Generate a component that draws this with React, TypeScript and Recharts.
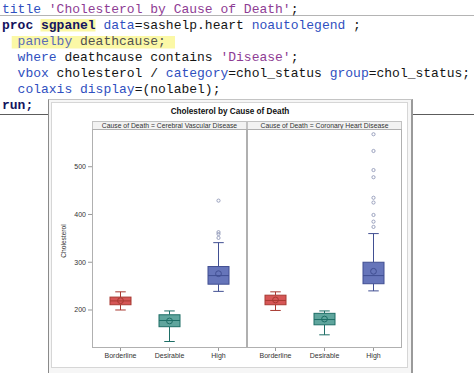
import React from 'react';
import { ComposedChart, Bar, Scatter, XAxis, YAxis } from 'recharts';

// ---- data ----
const categories = ['Borderline', 'Desirable', 'High'];
const yTicks = [200, 300, 400, 500];
const yDomain = [122.5, 579];

// Cerebral Vascular Disease
const cvLo = [200, 134, 239];
const cvQ1 = [211, 165, 254];
const cvMed = [219, 178, 272];
const cvQ3 = [227, 190, 291];
const cvHi = [238, 198, 341];
const cvMean = [219.5, 177, 276];
const cvHighOutliers = [351, 359, 363, 429];

// Coronary Heart Disease
const chLo = [199, 148, 240];
const chQ1 = [211, 169, 255];
const chMed = [220, 180, 272];
const chQ3 = [231, 193, 300];
const chHi = [238, 198, 360];
const chMean = [221, 181, 281];
const chHighOutliers = [374, 385, 399, 425, 435, 478, 493, 533, 568];

const panelTitles = [
  'Cause of Death = Cerebral Vascular Disease',
  'Cause of Death = Coronary Heart Disease',
];
const chartTitle = 'Cholesterol by Cause of Death';
const yLabel = 'Cholesterol';

const COLORS: Record<string, { fill: string; line: string }> = {
  Borderline: { fill: '#D65656', line: '#A83A32' },
  Desirable: { fill: '#5FA59D', line: '#1E6E66' },
  High: { fill: '#6675BA', line: '#414F92' },
};

const build = (lo: number[], q1: number[], med: number[], q3: number[], hi: number[], mean: number[]) =>
  categories.map((cat, i) => ({ cat, lo: lo[i], q1: q1[i], med: med[i], q3: q3[i], hi: hi[i], mean: mean[i] }));

const cvData = build(cvLo, cvQ1, cvMed, cvQ3, cvHi, cvMean);
const chData = build(chLo, chQ1, chMed, chQ3, chHi, chMean);
const cvOut = cvHighOutliers.map((v) => ({ cat: 'High', v }));
const chOut = chHighOutliers.map((v) => ({ cat: 'High', v }));

// ---- code listing ----
const KW = '#2f4fc0';
const STR = '#8e3c94';
const TXT = '#151515';
const BOLD = '#14145e';
type Tok = [string, string, boolean?];
const codeLines: Tok[][] = [
  [['title ', KW], ["'Cholesterol by Cause of Death'", STR], [';', TXT]],
  [['proc ', BOLD, true], ['sgpanel', BOLD, true], [' data', KW], ['=sashelp.heart ', TXT], ['noautolegend', KW], [' ;', TXT]],
  [['  panelby ', '#5a6cb6'], ['deathcause;', '#505050']],
  [['  where ', KW], ['deathcause contains ', TXT], ["'Disease'", STR], [';', TXT]],
  [['  vbox ', KW], ['cholesterol / ', TXT], ['category', KW], ['=chol_status ', TXT], ['group', KW], ['=chol_status;', TXT]],
  [['  colaxis ', KW], ['display', KW], ['=(nolabel);', TXT]],
  [['run;', BOLD, true]],
];

const BoxShape = (props: any) => {
  const { x, y, width, height, payload } = props;
  if (!payload) return null;
  const top = Math.min(y, y + height);
  const h = Math.abs(height);
  const span = payload.hi - payload.lo;
  const py = (v: number) => top + ((payload.hi - v) / span) * h;
  const cx = x + width / 2;
  const c = COLORS[payload.cat];
  const cap = width * 0.25;
  return (
    <g>
      <line x1={cx} x2={cx} y1={py(payload.hi)} y2={py(payload.q3)} stroke={c.line} strokeWidth={1} />
      <line x1={cx} x2={cx} y1={py(payload.q1)} y2={py(payload.lo)} stroke={c.line} strokeWidth={1} />
      <line x1={cx - cap} x2={cx + cap} y1={py(payload.hi)} y2={py(payload.hi)} stroke={c.line} />
      <line x1={cx - cap} x2={cx + cap} y1={py(payload.lo)} y2={py(payload.lo)} stroke={c.line} />
      <rect x={x} y={py(payload.q3)} width={width} height={py(payload.q1) - py(payload.q3)} fill={c.fill} stroke={c.line} strokeWidth={1} />
      <line x1={x} x2={x + width} y1={py(payload.med)} y2={py(payload.med)} stroke={c.line} strokeWidth={1} />
    </g>
  );
};

const MeanShape = (props: any) => {
  const { cx, cy, payload } = props;
  if (cx == null || cy == null) return null;
  const c = COLORS[payload?.cat] || COLORS.High;
  return <circle cx={cx} cy={cy} r={2.9} fill="none" stroke={c.line} strokeWidth={1} />;
};

const OutShape = (props: any) => {
  const { cx, cy } = props;
  if (cx == null || cy == null) return null;
  return <circle cx={cx} cy={cy} r={1.6} fill="none" stroke="#9199b8" strokeWidth={0.9} />;
};

const YLabelContent = (props: any) => {
  const vb = props.viewBox || {};
  const x = (vb.x ?? 0) + 11;
  const y = (vb.y ?? 0) + (vb.height ?? 0) / 2 + 3;
  return (
    <text x={x} y={y} transform={`rotate(-90 ${x} ${y})`} textAnchor="middle" dominantBaseline="central" fontSize={6.6} fill="#333">
      {yLabel}
    </text>
  );
};

const tickStyle = { fontSize: 7, fill: '#333' };

const Panel = ({ data, outliers, showY }: { data: any[]; outliers: any[]; showY: boolean }) => (
  <ComposedChart
    width={showY ? 195 : 155}
    height={245}
    data={data}
    margin={{ top: 1, right: 0, bottom: 0, left: 0 }}
  >
    <XAxis
      dataKey="cat"
      type="category"
      allowDuplicatedCategory={false}
      height={26}
      axisLine={false}
      tickLine={{ stroke: '#999' }}
      tickSize={4}
      tick={tickStyle}
      padding={{ left: 4, right: 4 }}
      interval={0}
    />
    <YAxis
      type="number"
      domain={yDomain}
      ticks={yTicks}
      allowDataOverflow
      hide={!showY}
      width={40}
      axisLine={false}
      tickLine={{ stroke: '#999' }}
      tickSize={4}
      tick={tickStyle}
      label={showY ? <YLabelContent /> : undefined}
    />
    <Bar
      dataKey={(d: any) => [d.lo, d.hi]}
      barSize={21}
      shape={<BoxShape />}
      isAnimationActive={false}
    />
    <Scatter dataKey="mean" shape={<MeanShape />} isAnimationActive={false} />
    <Scatter data={outliers} dataKey="v" shape={<OutShape />} isAnimationActive={false} />
  </ComposedChart>
);

export default function App() {
  const font = '"Liberation Sans", Arial, sans-serif';
  return (
    <div style={{ position: 'absolute', left: 0, top: 0, width: 474, height: 373, overflow: 'hidden', background: '#fff', fontFamily: font }}>
      {/* code editor background */}
      <svg width={474} height={373} style={{ position: 'absolute', left: 0, top: 0 }}>
        <line x1={0} x2={474} y1={15.5} y2={15.5} stroke="#b4b4b4" strokeWidth={1} />
        <line x1={0} x2={474} y1={114.5} y2={114.5} stroke="#5c5c5c" strokeWidth={1} />
        <rect x={40.5} y={19} width={55} height={12.5} fill="#fbf8a6" />
        <rect x={11.7} y={36} width={163.3} height={12.5} fill="#fbf8a6" />
        {codeLines.map((toks, i) => (
          <text
            key={i}
            x={2}
            y={12.5 + 16.13 * i}
            fontFamily='"Liberation Mono", "Courier New", monospace'
            fontSize={13}
            xmlSpace="preserve"
            style={{ whiteSpace: 'pre' }}
          >
            {toks.map((t, j) => (
              <tspan key={j} fill={t[1]} fontWeight={t[2] ? 'bold' : 'normal'}>
                {t[0]}
              </tspan>
            ))}
          </text>
        ))}
      </svg>

      {/* graph window */}
      <div style={{ position: 'absolute', left: 48, top: 99, width: 362, height: 290, borderLeft: '1px solid #8a8a8a', borderTop: '1px solid #c4c4c4', borderRight: '2px solid #9a9a9a', background: '#f6f6f6' }} />
      <div style={{ position: 'absolute', left: 51, top: 102, width: 355, height: 264, border: '1px solid #d6d6d6', background: '#fff' }} />

      {/* chart title */}
      <div style={{ position: 'absolute', left: 92, top: 107, width: 276, textAlign: 'center', fontSize: 8.2, fontWeight: 'bold', color: '#111', lineHeight: '10px' }}>
        {chartTitle}
      </div>

      {/* panel headers */}
      {panelTitles.map((t, i) => (
        <div
          key={i}
          style={{
            position: 'absolute',
            left: 92 + i * 155,
            top: 120.5,
            width: 153,
            height: 7,
            border: '1px solid #c2c2c2',
            borderBottom: 'none',
            background: '#f2f2f2',
            fontSize: 6.8,
            lineHeight: '7px',
            textAlign: 'center',
            color: '#333',
            whiteSpace: 'nowrap',
          }}
        >
          {t}
        </div>
      ))}

      {/* panels */}
      <div style={{ position: 'absolute', left: 52, top: 128 }}>
        <Panel data={cvData} outliers={cvOut} showY={true} />
      </div>
      <div style={{ position: 'absolute', left: 247, top: 128 }}>
        <Panel data={chData} outliers={chOut} showY={false} />
      </div>

      {/* panel frames */}
      <div style={{ position: 'absolute', left: 92, top: 128.5, width: 153, height: 217.5, border: '1px solid #b0b0b0', pointerEvents: 'none' }} />
      <div style={{ position: 'absolute', left: 247, top: 128.5, width: 153, height: 217.5, border: '1px solid #b0b0b0', pointerEvents: 'none' }} />
    </div>
  );
}
